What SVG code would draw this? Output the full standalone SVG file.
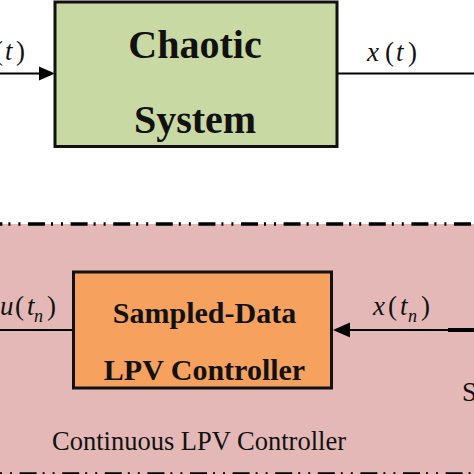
<svg xmlns="http://www.w3.org/2000/svg" width="474" height="474" viewBox="0 0 474 474">
<style>
.box{stroke:#111;stroke-width:3}
.ln{stroke:#000;stroke-width:2;fill:none}
.bt{font-family:"Liberation Serif",serif;font-weight:bold;font-size:40px;fill:#111;text-anchor:middle}
.bt2{font-family:"Liberation Serif",serif;font-weight:bold;font-size:30px;fill:#111;text-anchor:middle}
.m{font-family:"Liberation Serif",serif;font-size:27px;fill:#111}
.i{font-style:italic}
.sub{font-style:italic;font-size:18px}
.lab{font-family:"Liberation Serif",serif;font-size:26.5px;fill:#111}
.dd{stroke:#000;stroke-width:3.5;fill:none;stroke-dasharray:17 6 2 8 2 7.6}
</style>
<rect x="0" y="224" width="474" height="250" fill="#e3b8b6"/>
<g id="connectors">
<line class="ln" x1="0" y1="73.5" x2="40" y2="73.5"/>
<polygon points="39,66.5 55,73.5 39,80.5" fill="#000"/>
<line class="ln" x1="337" y1="73.5" x2="474" y2="73.5"/>
<line class="ln" x1="0" y1="330" x2="73" y2="330"/>
<line class="ln" x1="348" y1="330" x2="448" y2="330"/>
<line x1="448" y1="330" x2="474" y2="330" stroke="#000" stroke-width="4"/>
<polygon points="350,322.5 333,330 350,337.5" fill="#000"/>
</g>
<g id="border">
<line class="dd" x1="0" y1="224" x2="474" y2="224" stroke-dashoffset="14.6"/>
<line class="dd" x1="0" y1="474" x2="474" y2="474" stroke-dashoffset="23" stroke-width="7"/>
</g>
<g id="chaotic-system">
<rect class="box" x="55" y="2" width="282" height="144.5" fill="#c9d9a3"/>
<text class="bt" x="195" y="58">Chaotic</text>
<text class="bt" x="195" y="133">System</text>
</g>
<g id="controller">
<rect class="box" x="73.5" y="272" width="258" height="116" fill="#f6a25e"/>
<text class="bt2" x="204.5" y="323">Sampled-Data</text>
<text class="bt2" x="204.5" y="380">LPV Controller</text>
</g>
<g id="labels">
<text class="m" y="60"><tspan x="-6">(</tspan><tspan class="i" x="5">t</tspan><tspan x="16">)</tspan></text>
<text class="m" y="61"><tspan class="i" x="367">x</tspan><tspan x="385">(</tspan><tspan class="i" x="396">t</tspan><tspan x="408">)</tspan></text>
<text class="m" y="315"><tspan class="i" x="0">u</tspan><tspan x="15">(</tspan><tspan class="i" x="27">t</tspan><tspan class="sub" x="34" y="322">n</tspan><tspan x="47" y="315">)</tspan></text>
<text class="m" y="315"><tspan class="i" x="373">x</tspan><tspan x="388">(</tspan><tspan class="i" x="400">t</tspan><tspan class="sub" x="408" y="322">n</tspan><tspan x="421" y="315">)</tspan></text>
<text class="lab" x="462" y="401" font-size="22">S</text>
<text class="lab" x="52" y="450">Continuous LPV Controller</text>
</g>
</svg>
